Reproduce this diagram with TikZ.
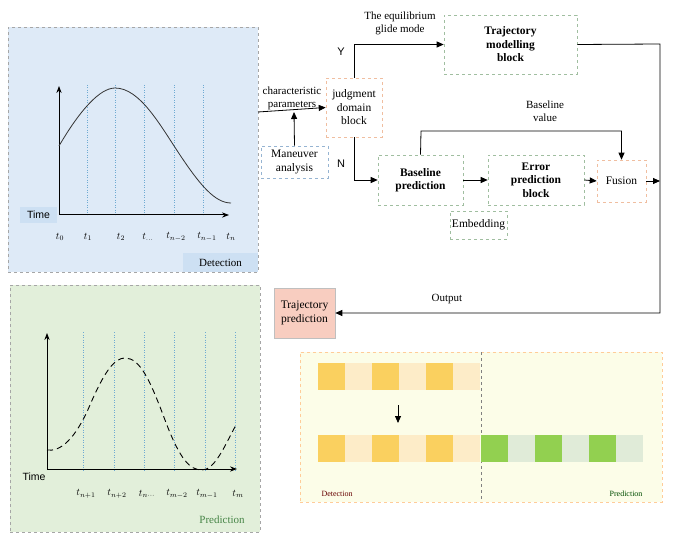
\documentclass[tikz,border=0pt]{standalone}
\usepackage{fontspec}
\setmainfont{Liberation Serif}
\newfontfamily\sansf{Liberation Sans}
\usetikzlibrary{arrows.meta}
\definecolor{pblue}{RGB}{222,234,247}
\definecolor{pblue2}{RGB}{205,224,243}
\definecolor{pgreen}{RGB}{226,239,218}
\definecolor{pyel}{RGB}{252,253,232}
\definecolor{sqo}{RGB}{250,208,95}
\definecolor{sqlo}{RGB}{253,236,200}
\definecolor{sqg}{RGB}{146,208,80}
\definecolor{sqlg}{RGB}{224,235,216}
\definecolor{pink}{RGB}{248,205,192}
\definecolor{dgreen}{RGB}{160,190,160}
\definecolor{dorange}{RGB}{240,190,160}
\definecolor{dblue}{RGB}{150,180,210}
\definecolor{gridc}{RGB}{110,170,210}
\tikzset{
 panel/.style={draw=gray!70,dashed,line width=0.6pt},
 blk/.style={draw=#1,dashed,line width=0.6pt,align=center,inner sep=0pt,font=\fontsize{11.5}{13.5}\selectfont},
 bblk/.style={blk=#1,font=\bfseries\fontsize{11.5}{13.5}\selectfont},
 arr/.style={-{Triangle[length=7pt,width=6pt]},line width=0.8pt},
 grid/.style={dotted,draw=gridc,line width=0.5pt},
 ax/.style={-{Stealth[length=7pt]},line width=1pt},
 lab/.style={font=\fontsize{11}{13}\selectfont,align=center},
 tl/.style={font=\fontsize{10}{11}\selectfont}
}
\begin{document}
\begin{tikzpicture}[x=1pt,y=-1pt]
\useasboundingbox (0,0) rectangle (685,545);
% top-left panel
\node[panel,fill=pblue,minimum width=250,minimum height=245,inner sep=0] (p1) at (133,149.5) {};
\draw[ax] (59,215) -- (59,86);
\draw[ax] (59,215) -- (229,215);
\foreach \x in {87,115,144,174,203} \draw[grid] (\x,85) -- (\x,215);
\draw[line width=0.8pt,gray!40!black] (59,146) .. controls (80,110) and (100,88) .. (115,88) .. controls (140,88) and (160,125) .. (180,155) .. controls (200,185) and (215,203) .. (231,203);
\node[fill=pblue2,minimum width=37,minimum height=16,inner sep=0,font=\sansf\fontsize{10.5}{12}\selectfont] (time1) at (38.5,215) {Time};
\foreach \x/\t in {60/t_0,88/t_1,121/t_2,148/t_{\dots},176/t_{n-2},207/t_{n-1},231/t_n}
  \node[tl] at (\x,237) {$\t$};
\node[fill=pblue2,minimum width=75,minimum height=19,inner sep=0,lab] (det1) at (220.5,262.5) {Detection};
% bottom-left panel
\node[panel,fill=pgreen,minimum width=250,minimum height=247,inner sep=0] (p2) at (135,408.5) {};
\draw[ax] (47,469) -- (47,333);
\draw[ax] (47,469) -- (237,469);
\foreach \x in {83,114,144,174,205,235} \draw[grid] (\x,332) -- (\x,470);
\draw[line width=0.9pt,dash pattern=on 6pt off 4pt] (47,450) .. controls (60,452) and (75,440) .. (90,405) .. controls (105,370) and (115,358) .. (125,358) .. controls (140,358) and (150,380) .. (165,420) .. controls (180,460) and (190,470) .. (202,470) .. controls (215,470) and (225,445) .. (236,425);
\node[font=\sansf\fontsize{10.5}{12}\selectfont] (time2) at (34,477) {Time};
\foreach \x/\t in {86/t_{n+1},117/t_{n+2},147/t_{n\cdots},177/t_{m-2},207/t_{m-1},238/t_{m}}
  \node[tl] at (\x,494) {$\t$};
\node[lab,text=green!30!gray!80!black] (pr2) at (222,520) {Prediction};
% flow
\node[blk=dorange,minimum width=56,minimum height=59] (judg) at (354,107.5) {judgment\\domain\\block};
\node[blk=dblue,minimum width=67,minimum height=32] (man) at (294.5,162) {Maneuver\\analysis};
\node[bblk=dgreen,minimum width=133,minimum height=59] (traj) at (510.5,44.5) {Trajectory\\modelling\\block};
\node[bblk=dgreen,minimum width=85,minimum height=50] (base) at (420.5,180) {Baseline\\prediction};
\node[bblk=dgreen,minimum width=96,minimum height=50] (err) at (536,180) {Error\\prediction\\block};
\node[blk=dorange,minimum width=49,minimum height=42] (fus) at (621.5,181) {Fusion};
\node[blk=dgreen,minimum width=57,minimum height=28] (emb) at (478.5,225) {Embedding};
\node[blk=gray!50,fill=pink,minimum width=61,minimum height=50,solid] (tp) at (304.5,313) {Trajectory\\prediction};
\coordinate (pin) at (258,112);
\draw[arr] (pin) -- (judg.west);
\draw[arr] (man.north) -- (294,112);
\node[lab] at (292,98) {characteristic\\parameters};
\draw[arr] (judg.north) |- (traj.west);
\node[lab] at (400,23) {The equilibrium\\glide mode};
\node[font=\sansf\fontsize{11}{13}\selectfont] at (341,52) {Y};
\node[font=\sansf\fontsize{11}{13}\selectfont] at (341,164) {N};
\draw[arr] (judg.south) |- (base.west);
\draw[arr] (base.east) -- (err.west);
\draw[arr] (err.east) -- (fus.west);
\coordinate (bv) at (421,131);
\draw[arr] (base.north) -- (bv) -| (fus.north);
\node[lab] at (545,111) {Baseline\\value};
\coordinate (c1) at (660,44);
\coordinate (c2) at (660,313);
\draw[arr] (traj.east) -- (c1) -- (c2) -- (tp.east);
\draw[arr] (fus.east) -- (660,181);
\node[lab] at (447,299) {Output};
% bottom-right panel
\node[draw=orange!40,dashed,fill=pyel,minimum width=362,minimum height=150,inner sep=0] (p3) at (481,427) {};
\draw[dashed,gray] (481,352) -- (481,502);
\foreach \i in {0,...,5} {
  \pgfmathsetmacro{\xx}{318+27*\i}
  \ifodd\i \def\cc{sqlo}\else\def\cc{sqo}\fi
  \fill[\cc] (\xx,363) rectangle ++(27,27);
  \fill[\cc] (\xx,435) rectangle ++(27,27);
}
\foreach \i in {0,...,5} {
  \pgfmathsetmacro{\xx}{481+27*\i}
  \ifodd\i \def\cc{sqlg}\else\def\cc{sqg}\fi
  \fill[\cc] (\xx,435) rectangle ++(27,27);
}
\draw[arr] (398,405) -- (398,423);
\node[font=\fontsize{8}{9}\selectfont,text=red!40!black,anchor=west] at (318,494) {Detection};
\node[font=\fontsize{8}{9}\selectfont,text=green!30!black,anchor=east] at (646,494) {Prediction};
\end{tikzpicture}
\end{document}
